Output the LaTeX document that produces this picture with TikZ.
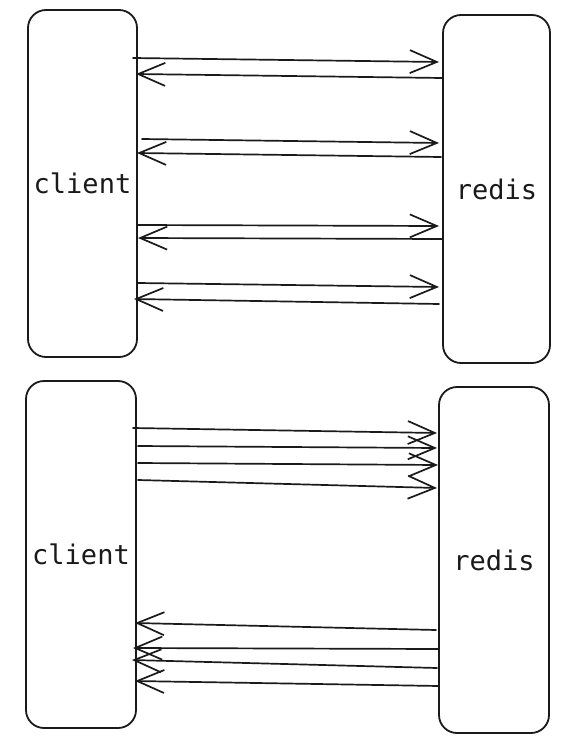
\documentclass[tikz,border=0pt]{standalone}
\usepackage{fontspec}
\newfontfamily\boxfont{DejaVu Sans Mono}
\usetikzlibrary{arrows.meta}
\definecolor{ink}{HTML}{1A1A1A}
\tikzset{
  box/.style={draw=ink, line width=1.8pt, rounded corners=18pt, inner sep=0pt, outer sep=0pt,
    font=\boxfont\fontsize{27}{30}\selectfont, text=ink},
  msg/.style={draw=ink, line width=1.7pt, line cap=round,
    -{Straight Barb[length=27pt, width=23pt, line width=1.7pt]}},
}
\begin{document}
\begin{tikzpicture}[x=1pt,y=-1pt]
\useasboundingbox (0,0) rectangle (563,738);
% top panel
\node[box, minimum width=109pt, minimum height=347pt] (c1) at (82.5,183.5) {client};
\node[box, minimum width=107pt, minimum height=348pt] (r1) at (496.5,189) {redis};
% bottom panel
\node[box, minimum width=110pt, minimum height=347pt] (c2) at (81,554.5) {client};
\node[box, minimum width=110pt, minimum height=346pt] (r2) at (494,560) {redis};
% endpoints top
\coordinate (a1s) at (133,58);  \coordinate (a1e) at (439,62);
\coordinate (a2s) at (442,78);  \coordinate (a2e) at (136,74);
\coordinate (a3s) at (142,139); \coordinate (a3e) at (439,143);
\coordinate (a4s) at (441,157); \coordinate (a4e) at (137,153);
\coordinate (a5s) at (137,225); \coordinate (a5e) at (439,226);
\coordinate (a6s) at (443,239); \coordinate (a6e) at (138,238);
\coordinate (a7s) at (138,283); \coordinate (a7e) at (439,287);
\coordinate (a8s) at (439,304); \coordinate (a8e) at (134,299);
\foreach \i in {1,...,8} \draw[msg] (a\i s) -- (a\i e);
% endpoints bottom
\coordinate (b1s) at (133,428); \coordinate (b1e) at (437,433);
\coordinate (b2s) at (138,446); \coordinate (b2e) at (437,448);
\coordinate (b3s) at (138,463); \coordinate (b3e) at (438,465);
\coordinate (b4s) at (138,480); \coordinate (b4e) at (437,488);
\coordinate (b5s) at (436,630); \coordinate (b5e) at (135,623);
\coordinate (b6s) at (439,649); \coordinate (b6e) at (133,648);
\coordinate (b7s) at (437,668); \coordinate (b7e) at (132,660);
\coordinate (b8s) at (439,686); \coordinate (b8e) at (135,681);
\foreach \i in {1,...,8} \draw[msg] (b\i s) -- (b\i e);
\end{tikzpicture}
\end{document}
